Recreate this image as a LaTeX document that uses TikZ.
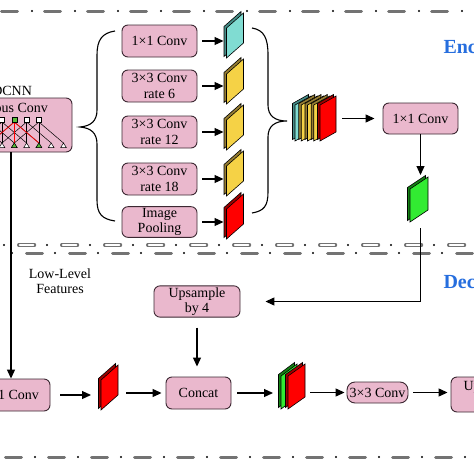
\documentclass[tikz,border=0pt]{standalone}
\usepackage{fontspec}
\setmainfont{Liberation Serif}
\usetikzlibrary{arrows.meta,calc}
\definecolor{boxpink}{RGB}{234,184,205}
\definecolor{boxedge}{RGB}{60,40,50}
\definecolor{mapcyan}{RGB}{128,220,210}
\definecolor{mapcyanside}{RGB}{70,140,135}
\definecolor{mapyellow}{RGB}{245,210,70}
\definecolor{mapyellowside}{RGB}{150,125,50}
\definecolor{mapred}{RGB}{255,0,0}
\definecolor{mapredside}{RGB}{160,0,0}
\definecolor{mapgreen}{RGB}{50,235,50}
\definecolor{mapgreenside}{RGB}{20,130,20}
\definecolor{titleblue}{RGB}{38,110,222}
\definecolor{sepgray}{RGB}{115,115,115}
\definecolor{netgreen}{RGB}{90,190,60}
\newcommand\fmapdraw[4]{%
 \filldraw[fill=#3,draw=black,line width=0.6pt] let \p1=(#1.south west),\p2=(#1.north east) in
   (\x1-2.5pt,\y1+1.5pt) -- (\x1-2.5pt,\y2-#4pt+1.5pt) -- (\x2-2.5pt,\y2+1.5pt) -- (\x2-2.5pt,\y1+#4pt+1.5pt) -- cycle;
 \filldraw[fill=#2,draw=black,line width=0.6pt] let \p1=(#1.south west),\p2=(#1.north east) in
   (\x1,\y1) -- (\x1,\y2-#4pt) -- (\x2,\y2) -- (\x2,\y1+#4pt) -- cycle;}
\tikzset{
 pbox/.style={draw=boxedge, fill=boxpink, line width=0.9pt, rounded corners=6pt, align=center,
   font=\fontsize{14}{15.5}\selectfont, inner sep=1.5pt},
 fm/.style={inner sep=0pt, outer sep=0pt},
 arr/.style={-{Triangle[length=9pt,width=8pt]}, line width=1.2pt, black},
 lbl/.style={align=center, font=\fontsize{14}{15.5}\selectfont},
 ttl/.style={font=\fontsize{20}{24}\selectfont\bfseries, text=titleblue, anchor=base west},
 sepdash/.style={sepgray, line width=3pt, line cap=round, dash pattern=on 16pt off 27pt},
 sepdot/.style={black, line width=2.4pt, line cap=round, dash pattern=on 0pt off 43pt},
}
\begin{document}
\begin{tikzpicture}[x=1pt,y=-1pt]
\useasboundingbox (0,0) rectangle (474,474);
% separators
\draw[sepdash] (1.5,11) -- (474,11);
\draw[sepdot] (32,11) -- (474,11);
\draw[sepdash, line width=3.2pt] (18.6,245) -- (474,245);
\draw[white, line width=1.1pt, line cap=round, dash pattern=on 14pt off 29pt] (19.6,245) -- (474,245);
\draw[sepdot] (4,245) -- (474,245);
\draw[sepdash] (26.5,253) -- (474,253);
\draw[sepdot] (12,253) -- (474,253);
\draw[sepdash] (5.5,457) -- (474,457);
\draw[sepdot] (35,457) -- (474,457);

% titles
\node[ttl] (enc) at (440,53) {Encoder};
\node[ttl] (dec) at (440,288) {Decoder};

% DCNN / atrous
\node[lbl, anchor=base east] (dcnn) at (35.5,95) {DCNN};
\node[pbox, minimum width=117pt, minimum height=54pt] (atrous) at (13.5,125) {};
\node[lbl, anchor=base] (atrouslbl) at (12,112) {Atrous Conv};
\foreach \i in {-2,...,3}{\foreach \d in {-2,0,2}{
  \draw[line width=0.5pt] ({2+12.3*\i},122) -- ({2+12.3*(\i+\d)},143);}}
\foreach \d in {-2,0,2}{\draw[red, line width=0.7pt] (14.3,122) -- ({2+12.3*(1+\d)},143);}
\foreach \i in {-3,...,5}{
  \filldraw[fill=white, draw=black, line width=0.5pt] ({2+12.3*\i-2.8},147.5) -- ({2+12.3*\i+2.8},147.5) -- ({2+12.3*\i},143) -- cycle;}
\foreach \i in {-1,1,3}{
  \filldraw[fill=netgreen, draw=black, line width=0.5pt] ({2+12.3*\i-2.8},147.5) -- ({2+12.3*\i+2.8},147.5) -- ({2+12.3*\i},143) -- cycle;}
\foreach \i in {-2,...,3}{
  \filldraw[fill=white, draw=black, line width=0.5pt] ({2+12.3*\i-2.5},117) rectangle ({2+12.3*\i+2.5},122);}
\filldraw[fill=netgreen, draw=black, line width=0.5pt] (11.8,117) rectangle (16.8,122);

% braces
\draw[line width=1.1pt] (115,31) .. controls (102,33) and (97,40) .. (97,55) -- (97,110)
  .. controls (97,121) and (91,126) .. (80,127) .. controls (91,128) and (97,133) .. (97,144)
  -- (97,200) .. controls (97,214) and (102,219) .. (115,221);
\draw[line width=1.1pt] (252,28) .. controls (264,30) and (268,38) .. (268,55) -- (268,105)
  .. controls (268,116) and (275,121) .. (287,121) .. controls (275,121) and (268,126) .. (268,137)
  -- (268,192) .. controls (268,206) and (264,211) .. (252,213);

% branches
\node[pbox, minimum width=75pt, minimum height=32pt] (b1) at (159.5,41) {1×1 Conv};
\node[pbox, minimum width=75pt, minimum height=32pt] (b2) at (159.5,86) {3×3 Conv\\rate 6};
\node[pbox, minimum width=75pt, minimum height=32pt] (b3) at (159.5,132) {3×3 Conv\\rate 12};
\node[pbox, minimum width=75pt, minimum height=32pt] (b4) at (159.5,179) {3×3 Conv\\rate 18};
\node[pbox, minimum width=75pt, minimum height=30pt] (b5) at (159.5,222) {Image\\Pooling};
\node[fm, minimum width=17pt, minimum height=45pt] (m1) at (235,35.5) {};
\node[fm, minimum width=17pt, minimum height=45pt] (m2) at (235,81.5) {};
\node[fm, minimum width=17pt, minimum height=45pt] (m3) at (235,127.5) {};
\node[fm, minimum width=17pt, minimum height=45pt] (m4) at (235,173.5) {};
\node[fm, minimum width=17pt, minimum height=45pt] (m5) at (235,216.5) {};
\fmapdraw{m1}{mapcyan}{mapcyanside}{15}
\fmapdraw{m2}{mapyellow}{mapyellowside}{15}
\fmapdraw{m3}{mapyellow}{mapyellowside}{15}
\fmapdraw{m4}{mapyellow}{mapyellowside}{15}
\fmapdraw{m5}{mapred}{mapredside}{15}
\foreach \k in {1,...,5}{
  \draw[arr, shorten <=5pt, shorten >=3pt] (b\k.east) -- (b\k.east -| m\k.west);}

% stack
\node[fm, minimum width=16pt, minimum height=45pt] (s1) at (303,118.5) {};
\node[fm, minimum width=16pt, minimum height=45pt] (s2) at (309.25,118.5) {};
\node[fm, minimum width=16pt, minimum height=45pt] (s3) at (315.5,118.5) {};
\node[fm, minimum width=16pt, minimum height=45pt] (s4) at (321.75,118.5) {};
\node[fm, minimum width=16pt, minimum height=45pt] (s5) at (328,118.5) {};
\node[fm, minimum width=41pt, minimum height=45pt] (stack) at (315.5,118.5) {};
\fmapdraw{s1}{mapcyan}{mapcyanside}{9}
\fmapdraw{s2}{mapyellow}{mapyellowside}{9}
\fmapdraw{s3}{mapyellow}{mapyellowside}{9}
\fmapdraw{s4}{mapyellow}{mapyellowside}{9}
\fmapdraw{s5}{mapred}{mapredside}{9}

\node[pbox, minimum width=75pt, minimum height=31pt] (ec) at (420.5,118.5) {1×1 Conv};
\draw[arr, shorten <=6pt, shorten >=8pt] (stack.east |- ec.west) -- (ec.west);
\node[fm, minimum width=18pt, minimum height=45pt] (gm) at (419,199.5) {};
\fmapdraw{gm}{mapgreen}{mapgreenside}{12}
\draw[arr, shorten >=2pt] (ec.south) -- (ec.south |- gm.north);

% decoder
\node[pbox, minimum width=86pt, minimum height=31pt] (ups) at (197,301.5) {Upsample\\by 4};
\draw[arr, shorten <=6pt, shorten >=25pt] (gm.south -| ec.south) |- (ups.east);
\node[lbl] (llf) at (60,281) {Low-Level\\Features};

\node[pbox, minimum width=78pt, minimum height=32pt] (lc) at (11,395) {1×1 Conv};
\draw[arr] (atrous.south -| lc.north) -- (lc.north);
\node[fm, minimum width=17pt, minimum height=45pt] (rm) at (109.5,387.5) {};
\fmapdraw{rm}{mapred}{mapredside}{15}
\node[pbox, minimum width=65pt, minimum height=32pt] (cat) at (198.5,393) {Concat};
\draw[arr, shorten <=10pt, shorten >=10pt] (ups.south) -- (ups.south |- cat.north);
\node[fm, minimum width=16pt, minimum height=45pt] (gm2) at (289,386.5) {};
\node[fm, minimum width=17pt, minimum height=45pt] (rm2) at (296.5,386.5) {};
\node[fm, minimum width=24pt, minimum height=45pt] (pr) at (293,386.5) {};
\fmapdraw{gm2}{mapgreen}{mapgreenside}{12}
\fmapdraw{rm2}{mapred}{mapredside}{12}
\node[pbox, minimum width=61pt, minimum height=21pt, rounded corners=8pt] (c3) at (377.5,392.5) {3×3 Conv};
\node[pbox, minimum width=82pt, minimum height=35pt] (up2) at (492,394.5) {Upsample\\by 4};

\draw[arr, shorten <=10pt, shorten >=10pt] (lc.east) -- (lc.east -| rm.west);
\draw[arr, shorten <=8pt, shorten >=4pt] (rm.east |- cat.west) -- (cat.west);
\draw[arr, shorten <=6pt, shorten >=8pt] (cat.east) -- (cat.east -| pr.west);
\draw[arr, shorten <=5pt, shorten >=2pt] (pr.east |- c3.west) -- (c3.west);
\draw[arr, shorten <=5pt, shorten >=3pt] (c3.east) -- (c3.east -| up2.west);
\end{tikzpicture}
\end{document}
